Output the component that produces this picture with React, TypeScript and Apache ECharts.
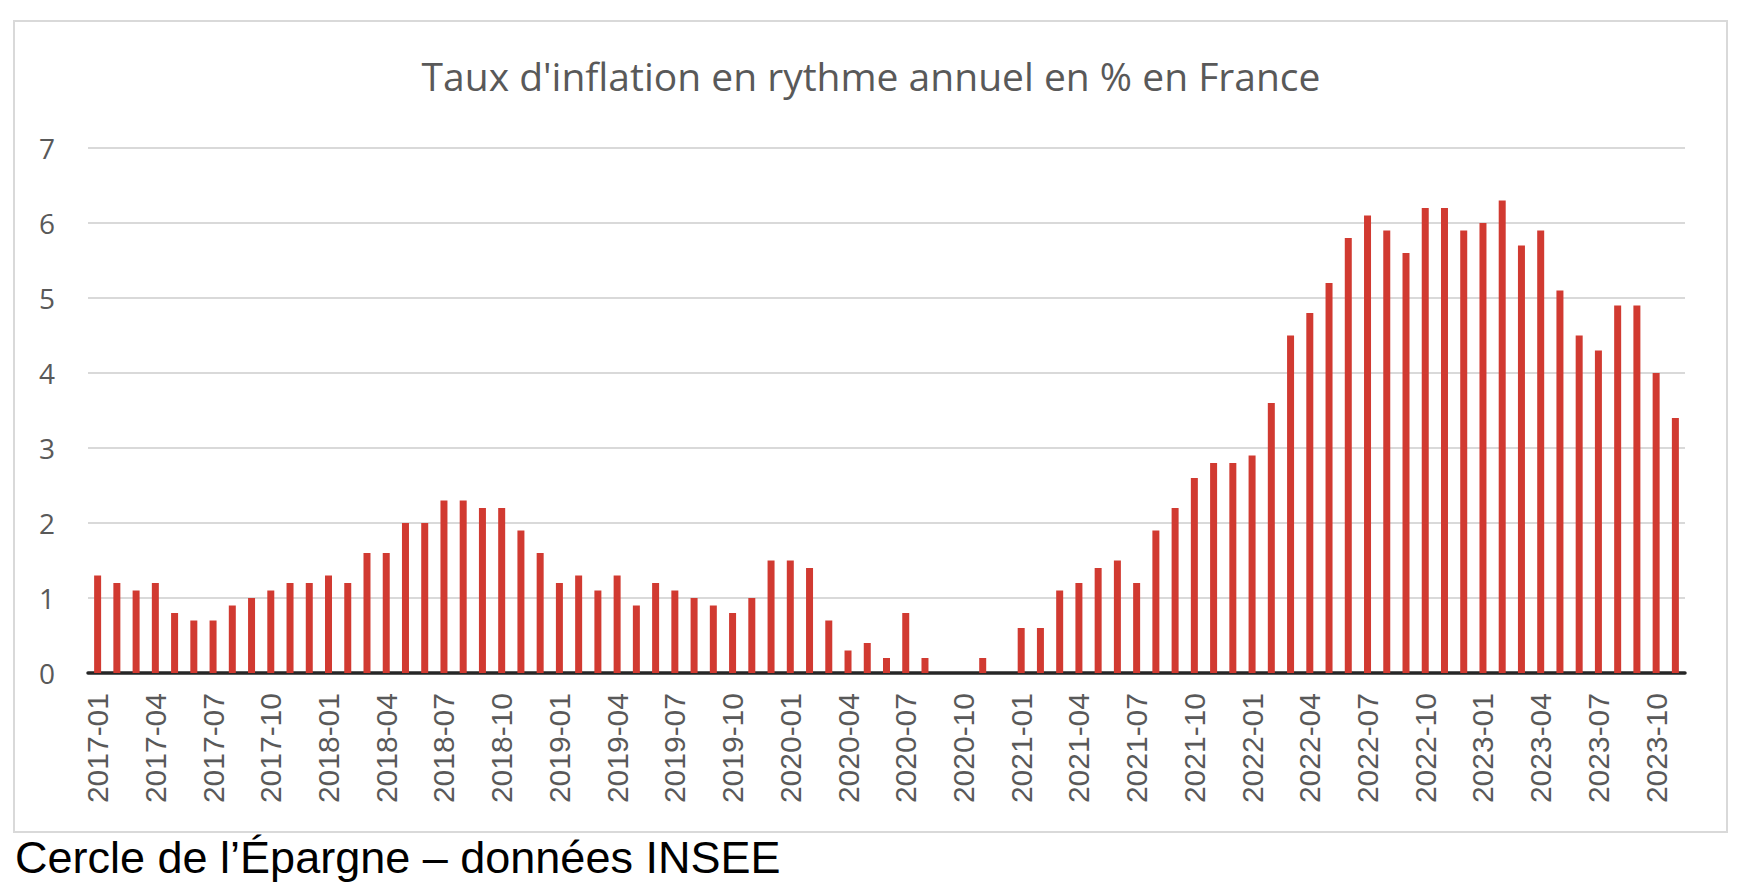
import React, { useEffect, useRef } from "react";
import * as echarts from "echarts";

const TITLE = "Taux d'inflation en rythme annuel en % en France";
const SOURCE = "Cercle de l’Épargne – données INSEE";

const years = [2017, 2018, 2019, 2020, 2021, 2022, 2023];

const values2017 = [1.3, 1.2, 1.1, 1.2, 0.8, 0.7, 0.7, 0.9, 1.0, 1.1, 1.2, 1.2];
const values2018 = [1.3, 1.2, 1.6, 1.6, 2.0, 2.0, 2.3, 2.3, 2.2, 2.2, 1.9, 1.6];
const values2019 = [1.2, 1.3, 1.1, 1.3, 0.9, 1.2, 1.1, 1.0, 0.9, 0.8, 1.0, 1.5];
const values2020 = [1.5, 1.4, 0.7, 0.3, 0.4, 0.2, 0.8, 0.2, 0.0, 0.0, 0.2, 0.0];
const values2021 = [0.6, 0.6, 1.1, 1.2, 1.4, 1.5, 1.2, 1.9, 2.2, 2.6, 2.8, 2.8];
const values2022 = [2.9, 3.6, 4.5, 4.8, 5.2, 5.8, 6.1, 5.9, 5.6, 6.2, 6.2, 5.9];
const values2023 = [6.0, 6.3, 5.7, 5.9, 5.1, 4.5, 4.3, 4.9, 4.9, 4.0, 3.4];

const yearValues = [values2017, values2018, values2019, values2020, values2021, values2022, values2023];

const categories: string[] = [];
const values: number[] = [];
yearValues.forEach((arr, yi) => {
  arr.forEach((v, mi) => {
    categories.push(`${years[yi]}-${String(mi + 1).padStart(2, "0")}`);
    values.push(v);
  });
});

const yTicks = [0, 1, 2, 3, 4, 5, 6, 7];

export default function App() {
  const ref = useRef<HTMLDivElement>(null);
  useEffect(() => {
    if (!ref.current) return;
    const chart = echarts.init(ref.current, undefined, { renderer: "svg" });
    chart.setOption({
      animation: false,
      backgroundColor: "#ffffff",
      title: {
        text: TITLE,
        left: 866,
        textAlign: "center",
        top: 51,
        textStyle: {
          fontFamily: "Open Sans",
          fontSize: 39,
          fontWeight: "normal",
          color: "#595959",
        },
      },
      grid: { left: 88, right: 61, top: 148, bottom: 215, containLabel: false },
      xAxis: {
        type: "category",
        data: categories,
        boundaryGap: true,
        axisTick: { show: false },
        axisLine: { lineStyle: { color: "#262626", width: 3.5 } },
        axisLabel: {
          rotate: 90,
          interval: 2,
          margin: 20,
          fontFamily: "Liberation Sans",
          fontSize: 30,
          color: "#595959",
        },
      },
      yAxis: {
        type: "value",
        min: yTicks[0],
        max: yTicks[yTicks.length - 1],
        interval: 1,
        axisLine: { show: false },
        axisTick: { show: false },
        splitLine: { lineStyle: { color: "#d9d9d9", width: 2 } },
        axisLabel: {
          margin: 33,
          fontFamily: "Open Sans",
          fontSize: 28,
          color: "#595959",
        },
      },
      series: [
        {
          type: "bar",
          data: values,
          barWidth: 7,
          itemStyle: { color: "#d13a31" },
        },
      ],
      graphic: [
        {
          type: "rect",
          z: -1,
          shape: { x: 14, y: 21, width: 1713, height: 811 },
          style: { fill: "none", stroke: "#d9d9d9", lineWidth: 2 },
        },
        {
          type: "text",
          left: 15,
          top: 835,
          style: {
            text: SOURCE,
            font: '45px "Liberation Sans"',
            fill: "#000000",
          },
        },
      ],
    });
    return () => chart.dispose();
  }, []);
  return (
    <div
      ref={ref}
      style={{ position: "fixed", left: 0, top: 0, width: 1746, height: 888 }}
    />
  );
}
